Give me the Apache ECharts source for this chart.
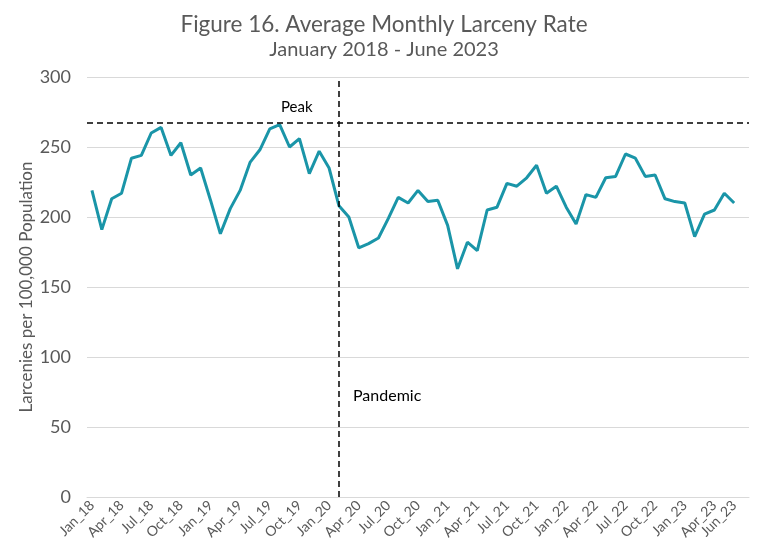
<!DOCTYPE html>
<html>
<head>
<meta charset="utf-8">
<script src="https://cdn.jsdelivr.net/npm/echarts@6/dist/echarts.min.js"></script>
<style>
  html, body { margin: 0; padding: 0; background: #fff; }
  #chart { width: 768px; height: 558px; }
</style>
</head>
<body>
<div id="chart"></div>
<script>
const monthNames = ['Jan', 'Feb', 'Mar', 'Apr', 'May', 'Jun', 'Jul', 'Aug', 'Sep', 'Oct', 'Nov', 'Dec']
const years = ['18', '19', '20', '21', '22', '23']

// Jan_18 ... Jun_23, plus one empty slot at the end like the source sheet
const months = []
years.forEach(y => monthNames.forEach(m => months.push(m + '_' + y)))
months.length = 66
months.push('')

const larcenyRate = [
  219, 191, 213, 217, 242, 244, 260, 264, 244, 253, 230, 235,
  212, 188, 206, 219, 239, 248, 263, 266, 250, 256, 231, 247,
  235, 208, 200, 178, 181, 185, 199, 214, 210, 219, 211, 212,
  194, 163, 182, 176, 205, 207, 224, 222, 228, 237, 217, 222,
  207, 195, 216, 214, 228, 229, 245, 242, 229, 230, 213, 211,
  210, 186, 202, 205, 217, 210
]

const peakValue = 267
const pandemicMonth = 'Feb_20'

const textColor = '#595959'
const font = 'Lato'

const chart = echarts.init(document.getElementById('chart'))

const option = {
  backgroundColor: '#fff',
  title: {
    text: 'Figure 16. Average Monthly Larceny Rate',
    subtext: 'January 2018 - June 2023',
    left: 'center',
    top: 8,
    itemGap: 4,
    textStyle: { fontFamily: font, fontSize: 22.5, fontWeight: 'normal', color: textColor },
    subtextStyle: { fontFamily: font, fontSize: 20, color: textColor }
  },
  grid: { left: 87, right: 19, top: 77, bottom: 61 },
  xAxis: {
    type: 'category',
    data: months,
    boundaryGap: true,
    axisLine: { lineStyle: { color: '#d9d9d9' } },
    axisTick: { show: false },
    axisLabel: {
      rotate: 45,
      margin: 6,
      fontFamily: font,
      fontSize: 14,
      color: textColor,
      interval: (i) => (i % 3 === 0 && i < 66) || i === 65
    }
  },
  yAxis: {
    type: 'value',
    min: 0,
    max: 300,
    interval: 50,
    name: 'Larcenies per 100,000 Population',
    nameLocation: 'middle',
    nameGap: 52,
    nameMoveOverlap: false,
    nameTextStyle: { fontFamily: font, fontSize: 17, color: textColor },
    axisLine: { show: false },
    axisTick: { show: false },
    axisLabel: { fontFamily: font, fontSize: 18, color: textColor, margin: 16 },
    splitLine: { lineStyle: { color: '#d9d9d9' } }
  },
  series: [{
    type: 'line',
    data: larcenyRate,
    symbol: 'none',
    lineStyle: { color: '#1a95a8', width: 3 },
    markLine: {
      silent: true,
      symbol: 'none',
      label: { show: false },
      lineStyle: { color: '#000', width: 1.5, type: [6, 4] },
      data: [
        { yAxis: peakValue },
        { xAxis: pandemicMonth }
      ]
    }
  }],
  graphic: [
    { type: 'text', left: 281, top: 100, style: { text: 'Peak', fontFamily: font, fontSize: 15, fill: '#000' } },
    { type: 'text', left: 353, top: 388, style: { text: 'Pandemic', fontFamily: font, fontSize: 16, fill: '#000' } }
  ]
}

chart.setOption(option)
</script>
</body>
</html>
